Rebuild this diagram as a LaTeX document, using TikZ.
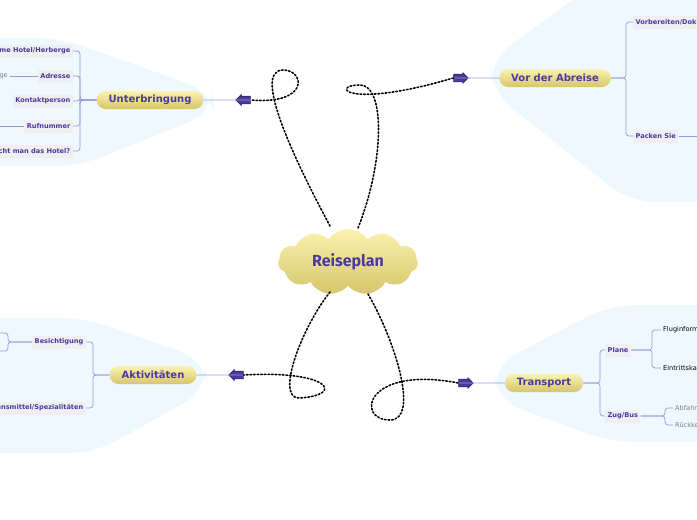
\documentclass[tikz,border=0pt]{standalone}
\usepackage{fontspec}
\setmainfont{DejaVu Sans}
\newfontfamily\cloudfont{Fira Sans}
\usetikzlibrary{shapes.symbols,shapes.arrows}
\definecolor{pur}{HTML}{4B3A9E}
\definecolor{lav}{HTML}{9A98D8}
\definecolor{blob}{HTML}{EEF8FE}
\definecolor{ytop}{HTML}{FBF2B0}
\definecolor{ybot}{HTML}{D6C56A}
\definecolor{sub}{HTML}{EFEFF2}
\newcommand{\shaft}{\phantom{\vrule width 9pt height 6pt depth 0pt}}
\tikzset{
 topic/.style={rounded corners=9pt,minimum height=18pt,top color=ytop,bottom color=ybot,draw=none,text=pur,font=\bfseries\fontsize{10}{12}\selectfont,inner xsep=12pt},
 subt/.style={fill=sub,text=pur,font=\bfseries\fontsize{6.6}{8}\selectfont,inner sep=2.5pt,minimum height=13pt},
 leaf/.style={font=\fontsize{6.6}{8}\selectfont,inner sep=2pt},
 ln/.style={draw=lav,line width=0.7pt,rounded corners=3pt},
 dots/.style={line width=1.6pt,dotted,line cap=round},
 blk/.style={single arrow,fill=pur,draw=pur!60!black,single arrow head extend=1.5pt,inner sep=0.5pt,line width=0.6pt},
}
\begin{document}
\begin{tikzpicture}[x=1pt,y=-1pt]
\useasboundingbox (0,0) rectangle (697,520);
\clip (0,0) rectangle (697,520);
% blobs
\fill[blob,rounded corners=25pt] (-20,38)--(60,38)--(212,92)--(214,112)--(80,166)--(-20,166)--cycle;
\fill[blob,rounded corners=25pt] (720,-20)--(600,-20)--(490,60)--(492,92)--(630,202)--(720,202)--cycle;
\fill[blob,rounded corners=25pt] (720,305)--(610,305)--(494,365)--(496,400)--(610,442)--(720,442)--cycle;
\fill[blob,rounded corners=25pt] (-20,318)--(85,318)--(205,360)--(207,390)--(95,453)--(-20,453)--cycle;
% center
\node[cloud,cloud puffs=11,cloud puff arc=110,aspect=2.4,top color=ytop,bottom color=ybot,minimum width=140pt,minimum height=66pt,text=pur,font=\cloudfont\bfseries\fontsize{16}{18}\selectfont] (c) at (348,262) {Reiseplan};
% topics
\node[topic] (u) at (150,100) {Unterbringung};
\node[topic] (v) at (555,78) {Vor der Abreise};
\node[topic] (a) at (153,375) {Aktivitäten};
\node[topic] (t) at (544,383) {Transport};
% block arrows
\node[blk,shape border rotate=180] (au) at (245,100) {\shaft};
\node[blk] (av) at (459,78) {\shaft};
\node[blk,shape border rotate=180] (aa) at (238,375) {\shaft};
\node[blk] (at) at (464,383) {\shaft};
\draw[ln] (au.east)--(u.east);
\draw[ln] (av.west)--(v.west);
\draw[ln] (aa.east)--(a.east);
\draw[ln] (at.west)--(t.west);
% dotted curves
\draw[dots] (330,226) .. controls (300,170) and (250,70) .. (283,70) .. controls (305,70) and (310,105) .. (au.east);
\draw[dots] (358,228) .. controls (385,160) and (385,85) .. (360,85) .. controls (330,85) and (345,110) .. (av.west);
\draw[dots] (330,292) .. controls (300,330) and (275,400) .. (300,398) .. controls (345,395) and (330,370) .. (aa.east);
\draw[dots] (368,294) .. controls (395,340) and (420,420) .. (390,420) .. controls (355,420) and (365,365) .. (at.west);
% Unterbringung children
\node[subt,anchor=east] (u1) at (73,51) {Name Hotel/Herberge};
\node[subt,anchor=east] (u2) at (73,76) {Adresse};
\node[subt,anchor=east] (u3) at (73,101) {Kontaktperson};
\node[subt,anchor=east] (u4) at (73,126) {Rufnummer};
\node[subt,anchor=east] (u5) at (73,151) {Wie erreicht man das Hotel?};
\node[leaf,text=gray,anchor=east] (u2a) at (10,76) {Unterkunft-Anfrage};
\coordinate (u4a) at (-5,126);
\foreach \n in {u1,u2,u3,u4,u5}{\draw[ln] (u.west)-|(80,0|-\n.east)--(\n.east);}
\draw[ln] (u2a.east)--(u2.west);
\draw[ln] (u4a)--(u4.west);
% Vor der Abreise children
\node[subt,anchor=west] (v1) at (633,22) {Vorbereiten/Dokumente};
\node[subt,anchor=west] (v2) at (633,136) {Packen Sie};
\coordinate (v2a) at (705,136);
\foreach \n in {v1,v2}{\draw[ln] (v.east)-|(626,0|-\n.west)--(\n.west);}
\draw[ln] (v2.east)--(v2a);
% Transport children
\node[subt,anchor=west] (t1) at (605,350) {Plane};
\node[subt,anchor=west] (t2) at (605,416) {Zug/Bus};
\foreach \n in {t1,t2}{\draw[ln] (t.east)-|(600,0|-\n.west)--(\n.west);}
\node[leaf,anchor=west] (t11) at (661,330) {Fluginformationen};
\node[leaf,anchor=west] (t12) at (661,368) {Eintrittskarten};
\foreach \n in {t11,t12}{\draw[ln] (t1.east)-|(652,0|-\n.west)--(\n.west);}
\node[leaf,anchor=west,text=gray] (t21) at (673,408) {Abfahrt};
\node[leaf,anchor=west,text=gray] (t22) at (673,425) {Rückkehr};
\foreach \n in {t21,t22}{\draw[ln] (t2.east)-|(665,0|-\n.west)--(\n.west);}
% Aktivitaeten children
\node[subt,anchor=east] (a1) at (86,342) {Besichtigung};
\node[subt,anchor=east] (a2) at (86,408) {Lebensmittel/Spezialitäten};
\foreach \n in {a1,a2}{\draw[ln] (a.west)-|(93,0|-\n.east)--(\n.east);}
\coordinate (a1a) at (-5,333);
\coordinate (a1b) at (-5,351);
\draw[ln] (a1.west)-|(8,0|-a1a)--(a1a);
\draw[ln] (a1.west)-|(8,0|-a1b)--(a1b);
\end{tikzpicture}
\end{document}
